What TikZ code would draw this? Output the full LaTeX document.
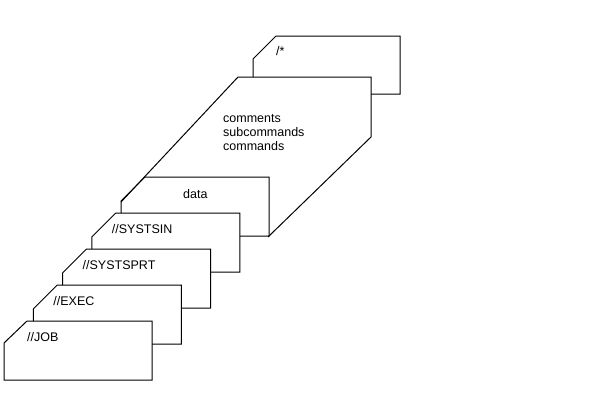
\documentclass[tikz,border=0pt]{standalone}
\usepackage{fontspec}
\setmainfont{Liberation Sans}
\usetikzlibrary{
    positioning,
    calc
}
\tikzset{
    cardline/.style = {line width=1pt, line join=miter}
  }
\tikzset{
    cardtext/.style = {
      font=\fontsize{12.5}{14}\selectfont,
      inner sep=0pt,
      anchor=base west
    }
  }

\begin{document}
\begin{tikzpicture}[x=1pt,y=-1pt]
\useasboundingbox (0,0) rectangle (592,418);

% first card, seen whole
\coordinate (job) at (4,321);
\draw[cardline] (4,380) -- (4,343) -- (27,321) -- (152,321)
  -- (152,380) -- cycle;

% cards stacked behind it
\foreach \k/\cname in {1/exec,2/sprt,3/sin,4/data}{
  \pgfmathsetmacro\lx{4+29.25*\k}
  \pgfmathsetmacro\ty{321-36*\k}
  \pgfmathsetmacro\rx{152+29.25*\k}
  \coordinate (\cname) at (\lx,\ty);
  \draw[cardline] (\lx,\ty+36) -- (\lx,\ty+24) -- (\lx+24,\ty)
    -- (\rx,\ty) -- (\rx,\ty+59) -- (\rx-29.25,\ty+59);
}

% the deck of commands
\coordinate (deck) at (238,77);
\draw[cardline] (121,202) -- (deck) -- (371,77) -- (371,137)
  -- (268,237);

% last card
\coordinate (last) at (276,36);
\draw[cardline] (253,77) -- (253,59) -- (last) -- (400,36)
  -- (400,94) -- (371,94);

\node[cardtext] (t_job)  at ($(job)+(23,20)$)  {//JOB};
\node[cardtext] (t_exec) at ($(exec)+(20,20)$) {//EXEC};
\node[cardtext] (t_sprt) at ($(sprt)+(20,20)$) {//SYSTSPRT};
\node[cardtext] (t_sin)  at ($(sin)+(20,20)$)  {//SYSTSIN};
\node[cardtext] (t_data) at ($(data)+(62,21)$) {data};

% base of a node of three lines is that of its last line
\node[cardtext,align=left] (t_deck) at ($(deck)+(-15,73.5)$)
  {comments\\subcommands\\commands};

\node[cardtext] (t_last) at ($(last)+(0,19)$) {/*};

\end{tikzpicture}
\end{document}
